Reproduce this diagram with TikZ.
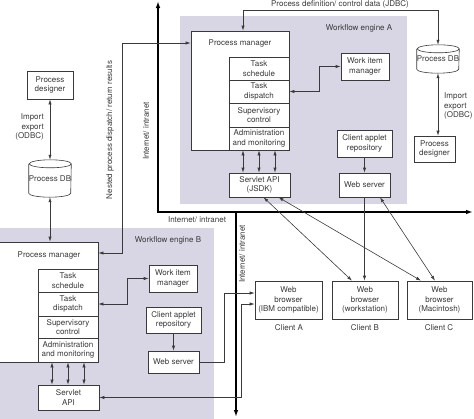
\documentclass[tikz,border=0pt]{standalone}
\usepackage{fontspec}
\setmainfont{TeX Gyre Heros}
\usetikzlibrary{arrows.meta,calc}
\definecolor{engine}{RGB}{216,214,228}
\definecolor{ink}{RGB}{58,58,58}
\newcommand{\lblfont}{\fontsize{8}{9.5}\selectfont}
\newcommand{\dbcyl}[1]{%
  \draw[draw=ink,line width=0.6pt] ([yshift=-4pt]#1.north west) -- ([yshift=4pt]#1.south west)
    arc[start angle=180,end angle=360,x radius=21pt,y radius=4pt]
    -- ([yshift=-4pt]#1.north east)
    arc[start angle=0,end angle=180,x radius=21pt,y radius=4pt]
    arc[start angle=180,end angle=360,x radius=21pt,y radius=4pt];}
\begin{document}
\begin{tikzpicture}[x=1pt,y=-1pt,
  sz/.style 2 args={minimum width=#1pt, minimum height=#2pt},
  box/.style={draw=ink, fill=white, line width=0.6pt, inner sep=0pt, align=center, font=\lblfont, text=ink},
  txt/.style={inner sep=0pt, align=center, font=\lblfont, text=ink},
  engbox/.style={fill=engine, inner sep=0pt},
  conn/.style={draw=ink, line width=0.6pt, >={Latex[length=5pt,width=3.2pt]}},
  net/.style={draw=black, line width=1.4pt, >={Latex[length=7pt,width=4.6pt]}},
  ]
\useasboundingbox (0,0) rectangle (474,418);

% engines
\node[engbox, sz={227}{188}] (engA) at (293.5,110) {};
\node[engbox, sz={216}{192}] (engB) at (106,324) {};
\node[txt] (engAl) at (359,28) {Workflow engine A};
\node[txt] (engBl) at (168,240) {Workflow engine B};

% engine A
\node[box, sz={98}{119}] (pmA) at (240,90.5) {};
\node[txt] (pmAl) at (240,43) {Process manager};
\node[box, sz={60}{23}] (tsA) at (259,68.5) {Task\\schedule};
\node[box, sz={60}{23}] (tdA) at (259,91.5) {Task\\dispatch};
\node[box, sz={60}{24}] (scA) at (259,115) {Supervisory\\control};
\node[box, sz={60}{23}] (amA) at (259,138.5) {Administration\\and monitoring};
\node[box, sz={48}{27}] (wimA) at (365,66.5) {Work item\\manager};
\node[box, sz={55}{27}] (carA) at (364.5,143.5) {Client applet\\repository};
\node[box, sz={51}{24}] (wsA) at (364.5,185) {Web server};
\node[box, sz={61}{24}] (saA) at (259.5,185) {Servlet API\\(JSDK)};

% right DB and designer
\node[txt, sz={42}{28}] (dbR) at (438,59) {Process DB};
\dbcyl{dbR}
\node[box, sz={41}{26}] (pdR) at (434.5,149) {Process\\designer};
\node[txt, anchor=west, align=left] (ieR) at (444,106) {Import\\export\\(ODBC)};

% left designer and DB
\node[box, sz={46}{28}] (pdL) at (50,85) {Process\\designer};
\node[txt, sz={42}{37}] (dbL) at (50,178.5) {Process DB};
\dbcyl{dbL}
\node[txt, anchor=east, align=right] (ieL) at (44,127) {Import\\export\\(ODBC)};

% engine B
\node[box, sz={103}{120}] (pmB) at (46.5,302) {};
\node[txt] (pmBl) at (49,255) {Process manager};
\node[box, sz={60}{23}] (tsB) at (68,280.5) {Task\\schedule};
\node[box, sz={60}{24}] (tdB) at (68,304) {Task\\dispatch};
\node[box, sz={60}{22}] (scB) at (68,327) {Supervisory\\control};
\node[box, sz={60}{24}] (amB) at (68,350) {Administration\\and monitoring};
\node[box, sz={61}{25}] (saB) at (68.5,397.5) {Servlet\\API};
\node[box, sz={48}{27}] (wimB) at (173,278.5) {Work item\\manager};
\node[box, sz={55}{26}] (carB) at (173.5,320) {Client applet\\repository};
\node[box, sz={51}{22}] (wsB) at (173.5,362) {Web server};

% browsers
\node[box, sz={67}{38}] (brA) at (288.5,300) {Web\\browser\\(IBM compatible)};
\node[box, sz={66}{38}] (brB) at (365,300) {Web\\browser\\(workstation)};
\node[box, sz={65}{38}] (brC) at (439.5,300) {Web\\browser\\(Macintosh)};
\node[txt] (clA) at (289,328) {Client A};
\node[txt] (clB) at (365,328) {Client B};
\node[txt] (clC) at (439,328) {Client C};

% network lines
\coordinate (nT) at (158,1);
\coordinate (nC1) at (158,212);
\coordinate (nR) at (473,212);
\coordinate (nC2) at (236,212);
\coordinate (nD) at (236,417);
\draw[net,<->] (nT) -- (nC1) -- (nR);
\draw[net,->] (nC2) -- (nD);
\node[txt, rotate=90] (inet1) at (146,131) {Internet/ intranet};
\node[txt] (inet2) at (197,220) {Internet/ intranet};
\node[txt, rotate=90] (inet3) at (242,254) {Internet/ intranet};

% process definition / control data
\coordinate (pd1) at (243,10);
\coordinate (pd2) at (438,10);
\draw[conn,<->] (pmA.north -| pd1) -- (pd1) -- (pd2) -- (dbR.north);
\node[txt, anchor=north] (pdl) at (340,0.6) {Process definition/ control data (JDBC)};

% nested process dispatch
\coordinate (np1) at (122,43);
\coordinate (np2) at (122,253);
\draw[conn,<->] (pmA.west |- np1) -- (np1) -- (np2) -- (pmB.east |- np2);
\node[txt, rotate=90] (npl) at (110,130) {Nested process dispatch/ return results};

% work item links
\coordinate (wkA) at (319,0);
\draw[conn,<->] (tdA.east) -- (tdA.east -| wkA) -- (wimA.west -| wkA) -- (wimA.west);
\coordinate (wkB) at (127,0);
\draw[conn,<->] (tdB.east) -- (tdB.east -| wkB) -- (wimB.west -| wkB) -- (wimB.west);

% admin <-> servlet
\foreach \dx in {-16,0,16} {
  \draw[conn,<->] ([xshift=\dx pt]amA.south) -- ([xshift=\dx pt]amA.south |- saA.north);
  \draw[conn,<->] ([xshift=\dx pt]amB.south) -- ([xshift=\dx pt]amB.south |- saB.north);
}

% applet repository -> web server
\draw[conn,->] (carA.south) -- (wsA.north);
\draw[conn,->] (carB.south) -- (wsB.north);

% designers <-> DBs
\draw[conn,<->] (pdL.south) -- (dbL.north);
\draw[conn,<->] (dbL.south) -- (dbL.south |- pmB.north);
\draw[conn,<->] (dbR.south) -- (dbR.south |- pdR.north);

% engine B to client A
\coordinate (wb1) at (224,293);
\draw[conn,->] (wsB.east) -| (wb1) -- (brA.west |- wb1);
\coordinate (wb2) at (241,304);
\draw[conn,<->] (saB.east) -| (wb2) -- (brA.west |- wb2);

% engine A to clients
\draw[conn,<->] ([xshift=4pt]saA.south) -- ([xshift=-13pt]brB.north);
\draw[conn,<->] ([xshift=19pt]saA.south) -- ([xshift=-18.5pt]brC.north);
\draw[conn,->] (wsA.south) -- (wsA.south |- brB.north);
\draw[conn,<->] ([xshift=15.5pt]wsA.south) -- ([xshift=-4.5pt]brC.north);
\end{tikzpicture}
\end{document}
